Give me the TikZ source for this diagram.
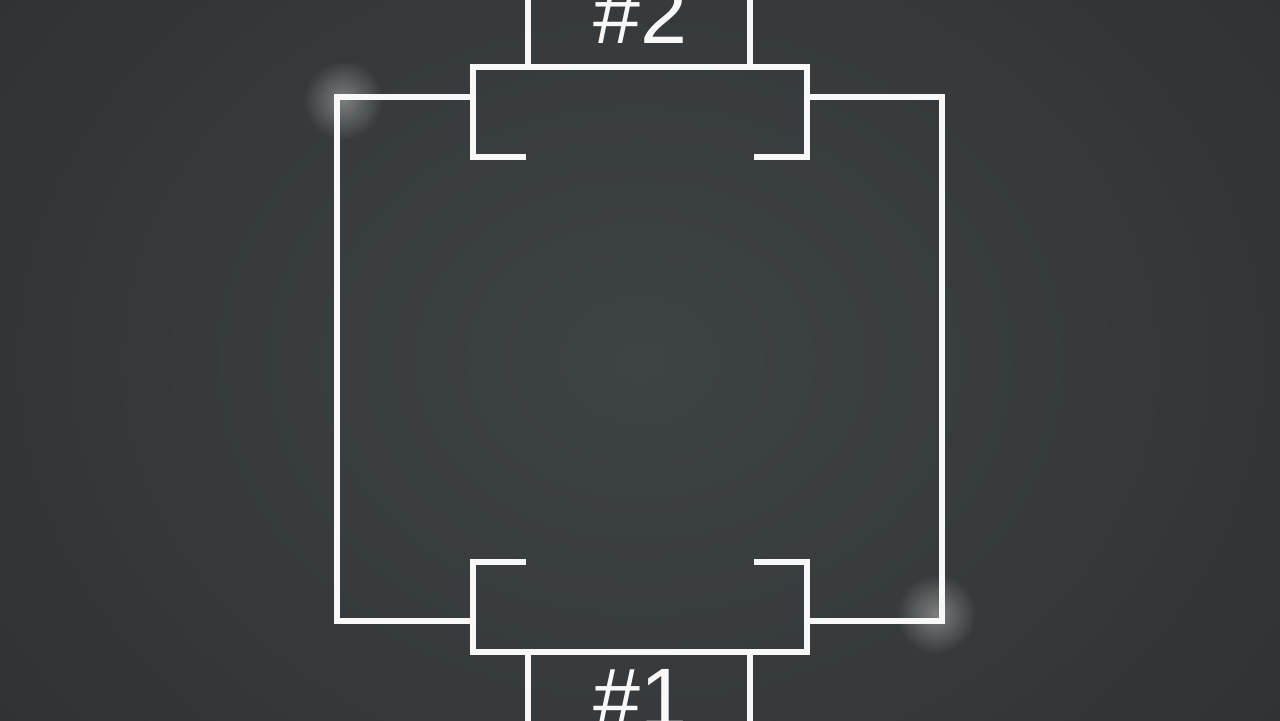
\documentclass[tikz,border=0pt]{standalone}
\usepackage{fontspec}
\setmainfont{Liberation Sans}
\usetikzlibrary{fadings}
\definecolor{bgin}{RGB}{62,67,69}
\definecolor{bgout}{RGB}{46,49,51}
\definecolor{wire}{RGB}{248,248,248}
\tikzfading[name=glowfade, inner color=transparent!0, outer color=transparent!100]
\tikzset{
  wireline/.style={draw=wire, line width=0.6mm, line cap=rect, line join=miter},
  labeltext/.style={text=wire, font=\fontsize{24}{24}\selectfont, inner sep=0pt},
}
\begin{document}
\begin{tikzpicture}[x=0.01cm, y=-0.01cm]
  \useasboundingbox (0,0) rectangle (1280,720);
  \shade[inner color=bgin, outer color=bgout] (-250,-350) rectangle (1530,1070);
  % glows
  \fill[white, opacity=0.35, path fading=glowfade] (343,100) circle (40);
  \fill[white, opacity=0.35, path fading=glowfade] (936,614) circle (40);
  % coordinates
  \coordinate (TL) at (337,97);
  \coordinate (TR) at (942,97);
  \coordinate (BL) at (337,621);
  \coordinate (BR) at (942,621);
  \coordinate (ub1) at (473,157);
  \coordinate (ub1s) at (523,157);
  \coordinate (ubtl) at (473,67);
  \coordinate (ubtr) at (807,67);
  \coordinate (ub2) at (807,157);
  \coordinate (ub2s) at (757,157);
  \coordinate (ul) at (473,97);
  \coordinate (ur) at (807,97);
  \coordinate (lb1) at (473,562);
  \coordinate (lb1s) at (523,562);
  \coordinate (lbbl) at (473,652);
  \coordinate (lbbr) at (807,652);
  \coordinate (lb2) at (807,562);
  \coordinate (lb2s) at (757,562);
  \coordinate (ll) at (473,621);
  \coordinate (lr) at (807,621);
  \coordinate (t2a) at (528,67);
  \coordinate (t2b) at (750,67);
  \coordinate (t2a0) at (528,-10);
  \coordinate (t2b0) at (750,-10);
  \coordinate (t1a) at (528,652);
  \coordinate (t1b) at (750,652);
  \coordinate (t1a0) at (528,730);
  \coordinate (t1b0) at (750,730);
  % upper bracket
  \draw[wireline] (ub1s) -- (ub1) -- (ubtl) -- (ubtr) -- (ub2) -- (ub2s);
  % lower bracket
  \draw[wireline] (lb1s) -- (lb1) -- (lbbl) -- (lbbr) -- (lb2) -- (lb2s);
  % outer loop
  \draw[wireline] (ul) -- (TL) -- (BL) -- (ll);
  \draw[wireline] (ur) -- (TR) -- (BR) -- (lr);
  % label boxes
  \draw[wireline] (t2a0) -- (t2a);
  \draw[wireline] (t2b0) -- (t2b);
  \draw[wireline] (t1a0) -- (t1a);
  \draw[wireline] (t1b0) -- (t1b);
  \node[labeltext] (n2) at (640,14) {\#2};
  \node[labeltext] (n1) at (640,698) {\#1};
\end{tikzpicture}
\end{document}
